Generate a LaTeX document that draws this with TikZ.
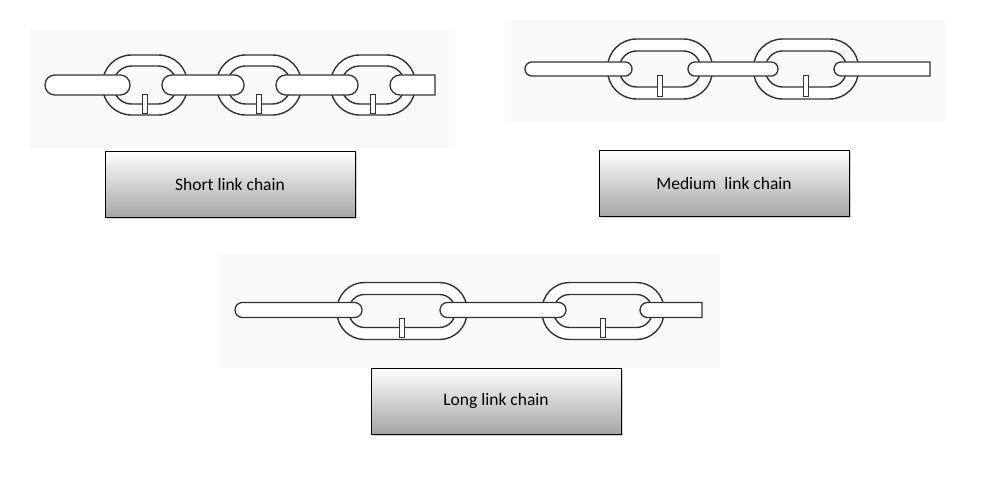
\documentclass[tikz,border=0pt]{standalone}
\usepackage{fontspec}
\setmainfont{Carlito}
\usetikzlibrary{shadows}
\tikzset{
  ring/.style={draw=black!80, line width=1.4pt, fill=white, even odd rule},
  rod/.style={draw=black!80, line width=1.3pt, fill=white},
  stud/.style={draw=black!80, line width=1pt, fill=white},
  label/.style={draw=black, line width=0.8pt, minimum width=250pt, minimum height=66pt,
    top color=white, bottom color=black!35, drop shadow={shadow xshift=2pt, shadow yshift=-2pt, opacity=0.35},
    font=\fontsize{17.5}{20}\selectfont},
  bg/.style={fill=black!2, draw=none}
}
% \chlink{cx}{cy}{outer w}{outer h}{thickness}{rod half-height}
\newcommand\chlink[6]{%
  \pgfmathsetmacro\ax{#1-#3/2}\pgfmathsetmacro\bx{#1+#3/2}%
  \pgfmathsetmacro\ay{#2-#4/2}\pgfmathsetmacro\by{#2+#4/2}%
  \pgfmathsetmacro\cx{#1-#3/2+#5}\pgfmathsetmacro\dx{#1+#3/2-#5}%
  \pgfmathsetmacro\cy{#2-#4/2+#5}\pgfmathsetmacro\dy{#2+#4/2-#5}%
  \pgfmathsetmacro\ro{#4/2-1}\pgfmathsetmacro\ri{#4/2-#5-1}%
  \path[ring] [rounded corners=\ro pt] (\ax,\ay) rectangle (\bx,\by)
              [rounded corners=\ri pt] (\cx,\cy) rectangle (\dx,\dy);
  \pgfmathsetmacro\sa{#2+#6}\pgfmathsetmacro\sb{#2+#4/2-2}%
  \draw[stud] (#1-2.5,\sa) rectangle (#1+2.5,\sb);
}
% \chrod{x1}{x2}{cy}{half-height}
\newcommand\chrod[4]{%
  \pgfmathsetmacro\ra{#3-#4}\pgfmathsetmacro\rb{#3+#4}\pgfmathsetmacro\rr{#4-0.2}%
  \draw[rod, rounded corners=\rr pt] (#1,\ra) rectangle (#2,\rb);
}
% \chend{x1}{x2}{cy}{half-height}: rounded left end, flat right end
\newcommand\chend[4]{%
  \pgfmathsetmacro\ra{#3-#4}\pgfmathsetmacro\rb{#3+#4}\pgfmathsetmacro\xs{#1+#4}%
  \draw[rod] (\xs,\ra) -- (#2,\ra) -- (#2,\rb) -- (\xs,\rb) arc[start angle=270,end angle=90,radius=#4pt] -- cycle;
}
\begin{document}
\begin{tikzpicture}[x=1pt,y=-1pt]
\useasboundingbox (0,0) rectangle (986,487);
\fill[white] (0,0) rectangle (986,487);
% backgrounds
\path[bg] (30,30) rectangle (455,148);
\path[bg] (505,20) rectangle (945,122);
\path[bg] (220,255) rectangle (720,368);
% short link chain
\chlink{145}{85}{85}{60}{11}{10}
\chlink{259}{85}{85}{60}{11}{10}
\chlink{373}{85}{85}{60}{11}{10}
\chrod{45}{130}{85}{10}
\chrod{162}{244}{85}{10}
\chrod{276}{358}{85}{10}
\chend{390}{435}{85}{10}
% medium link chain
\chlink{660}{69}{105}{60}{12}{7}
\chlink{806}{69}{105}{60}{12}{7}
\chrod{525}{632}{69}{7}
\chrod{688}{778}{69}{7}
\chend{834}{930}{69}{7}
% long link chain
\chlink{402}{311}{130}{57}{12}{7.5}
\chlink{603}{311}{122}{57}{12}{7.5}
\chrod{235}{362}{310}{7.5}
\chrod{440}{566}{310}{7.5}
\chend{640}{702}{310}{7.5}
% labels
\node[label] (short) at (230,184) {Short link chain};
\node[label] (medium) at (724,183) {Medium\ \ link chain};
\node[label] (long) at (496,401) {Long link chain};
\end{tikzpicture}
\end{document}
